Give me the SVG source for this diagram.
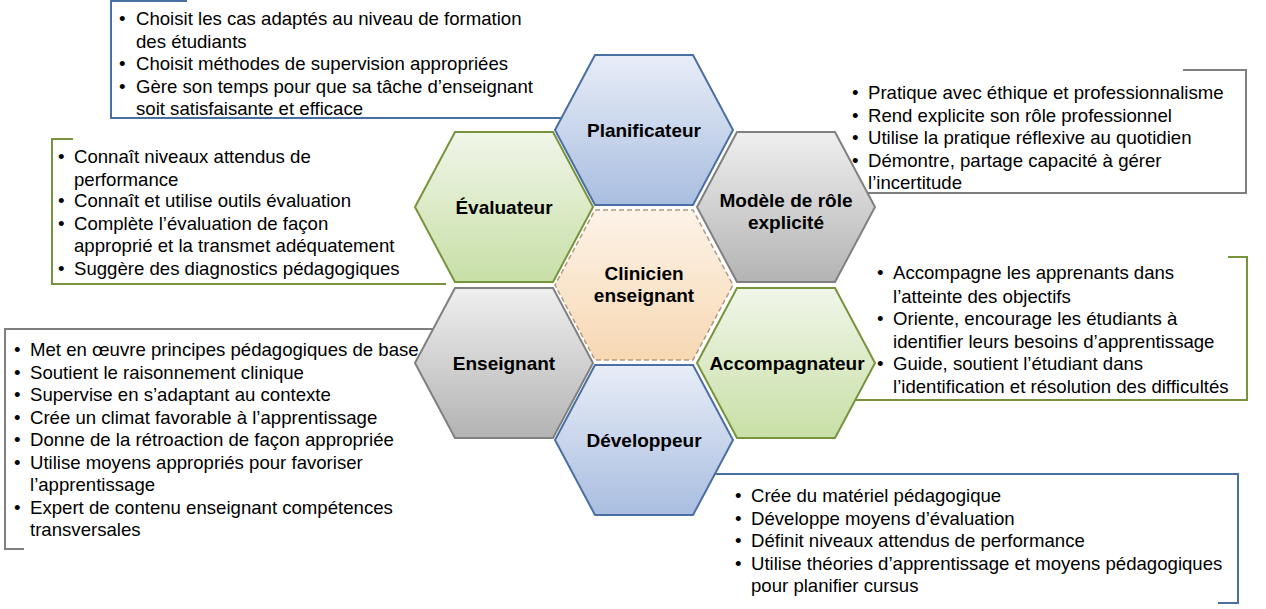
<svg xmlns="http://www.w3.org/2000/svg" width="1266" height="609" viewBox="0 0 1266 609">
<style>
.t{font-family:"Liberation Sans",Arial,sans-serif;font-size:18.6px;fill:#000}
.h{font-family:"Liberation Sans",Arial,sans-serif;font-size:19px;font-weight:bold;fill:#000;text-anchor:middle}
.cb{fill:none;stroke:#4a6fa5;stroke-width:2}
.cg{fill:none;stroke:#77933c;stroke-width:2}
.cy{fill:none;stroke:#7f7f7f;stroke-width:2}
.hb{fill:url(#gb);stroke:#4a6fa5;stroke-width:2}
.hg{fill:url(#gg);stroke:#77933c;stroke-width:2}
.hy{fill:url(#gy);stroke:#808080;stroke-width:2}
.hc{fill:url(#gc);stroke:#b09a80;stroke-width:1.5;stroke-dasharray:5 3}
</style>
<defs>
<linearGradient id="gb" x1="0" y1="0" x2="0" y2="1"><stop offset="0" stop-color="#e8edf7"/><stop offset="1" stop-color="#a9bee0"/></linearGradient>
<linearGradient id="gg" x1="0" y1="0" x2="0" y2="1"><stop offset="0" stop-color="#f0f6e9"/><stop offset="1" stop-color="#c8dfa6"/></linearGradient>
<linearGradient id="gy" x1="0" y1="0" x2="0" y2="1"><stop offset="0" stop-color="#efefef"/><stop offset="1" stop-color="#b3b3b3"/></linearGradient>
<linearGradient id="gc" x1="0" y1="0" x2="0" y2="1"><stop offset="0" stop-color="#fdf3e8"/><stop offset="1" stop-color="#f7d8b3"/></linearGradient>
<polygon id="hex" points="-49,-75 49,-75 89,0 49,75 -49,75 -89,0"/>
</defs>
<g id="connectors">
<polyline class="cb" points="187,1 111,1 111,118 600,118"/>
<polyline class="cg" points="73,139 52,139 52,284 446,284"/>
<polyline class="cy" points="1183,70 1246,70 1246,193 820,193"/>
<polyline class="cg" points="1228,257 1247,257 1247,400 820,400"/>
<polyline class="cy" points="470,329 5,329 5,549 24,549"/>
<polyline class="cb" points="690,474 1238,474 1238,603 1218,603"/>
</g>
<g id="planificateur"><use href="#hex" class="hb" x="644" y="130"/><text class="h" x="644" y="137">Planificateur</text></g>
<g id="evaluateur"><use href="#hex" class="hg" x="504" y="207"/><text class="h" x="504" y="214">Évaluateur</text></g>
<g id="modele"><use href="#hex" class="hy" x="786" y="207"/><text class="h" x="786" y="207">Modèle de rôle</text><text class="h" x="786" y="229">explicité</text></g>
<g id="clinicien"><use href="#hex" class="hc" x="644" y="285"/><text class="h" x="644" y="280">Clinicien</text><text class="h" x="644" y="302">enseignant</text></g>
<g id="enseignant"><use href="#hex" class="hy" x="504" y="363"/><text class="h" x="504" y="370">Enseignant</text></g>
<g id="accompagnateur"><use href="#hex" class="hg" x="786" y="363"/><text class="h" x="787" y="370">Accompagnateur</text></g>
<g id="developpeur"><use href="#hex" class="hb" x="644" y="440"/><text class="h" x="644" y="447">Développeur</text></g>
<g id="txt-planificateur" class="t">
<text x="119" y="25">•</text><text x="136" y="25">Choisit les cas adaptés au niveau de formation</text>
<text x="136" y="48">des étudiants</text>
<text x="119" y="70">•</text><text x="136" y="70">Choisit méthodes de supervision appropriées</text>
<text x="119" y="93">•</text><text x="136" y="93">Gère son temps pour que sa tâche d’enseignant</text>
<text x="136" y="115">soit satisfaisante et efficace</text>
</g>
<g id="txt-evaluateur" class="t">
<text x="58" y="163">•</text><text x="74" y="163">Connaît niveaux attendus de</text>
<text x="74" y="186">performance</text>
<text x="58" y="207">•</text><text x="74" y="207">Connaît et utilise outils évaluation</text>
<text x="58" y="230">•</text><text x="74" y="230">Complète l’évaluation de façon</text>
<text x="74" y="252">approprié et la transmet adéquatement</text>
<text x="58" y="275">•</text><text x="74" y="275">Suggère des diagnostics pédagogiques</text>
</g>
<g id="txt-modele" class="t">
<text x="852" y="99">•</text><text x="868" y="99">Pratique avec éthique et professionnalisme</text>
<text x="852" y="122">•</text><text x="868" y="122">Rend explicite son rôle professionnel</text>
<text x="852" y="144">•</text><text x="868" y="144">Utilise la pratique réflexive au quotidien</text>
<text x="852" y="167">•</text><text x="868" y="167">Démontre, partage capacité à gérer</text>
<text x="868" y="189">l’incertitude</text>
</g>
<g id="txt-accompagnateur" class="t">
<text x="877" y="279">•</text><text x="893" y="279">Accompagne les apprenants dans</text>
<text x="893" y="303">l’atteinte des objectifs</text>
<text x="877" y="325">•</text><text x="893" y="325">Oriente, encourage les étudiants à</text>
<text x="893" y="348">identifier leurs besoins d’apprentissage</text>
<text x="877" y="370">•</text><text x="893" y="370">Guide, soutient l’étudiant dans</text>
<text x="893" y="393">l’identification et résolution des difficultés</text>
</g>
<g id="txt-enseignant" class="t">
<text x="14" y="356">•</text><text x="30" y="356">Met en œuvre principes pédagogiques de base</text>
<text x="14" y="379">•</text><text x="30" y="379">Soutient le raisonnement clinique</text>
<text x="14" y="401">•</text><text x="30" y="401">Supervise en s’adaptant au contexte</text>
<text x="14" y="424">•</text><text x="30" y="424">Crée un climat favorable à l’apprentissage</text>
<text x="14" y="446">•</text><text x="30" y="446">Donne de la rétroaction de façon appropriée</text>
<text x="14" y="469">•</text><text x="30" y="469">Utilise moyens appropriés pour favoriser</text>
<text x="30" y="491">l’apprentissage</text>
<text x="14" y="514">•</text><text x="30" y="514">Expert de contenu enseignant compétences</text>
<text x="30" y="536">transversales</text>
</g>
<g id="txt-developpeur" class="t">
<text x="735" y="502">•</text><text x="751" y="502">Crée du matériel pédagogique</text>
<text x="735" y="525">•</text><text x="751" y="525">Développe moyens d’évaluation</text>
<text x="735" y="547">•</text><text x="751" y="547">Définit niveaux attendus de performance</text>
<text x="735" y="570">•</text><text x="751" y="570">Utilise théories d’apprentissage et moyens pédagogiques</text>
<text x="751" y="592">pour planifier cursus</text>
</g>
</svg>
